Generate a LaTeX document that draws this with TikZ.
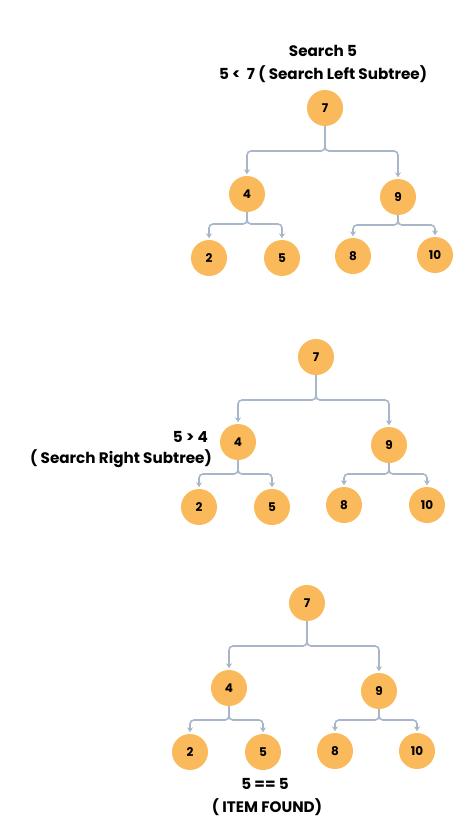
\documentclass[tikz,border=0pt]{standalone}
\usepackage{fontspec}
\setmainfont{Poppins}
\usetikzlibrary{arrows.meta}
\definecolor{nodefill}{HTML}{FAB95B}
\definecolor{conncol}{HTML}{A7B6C8}
\tikzset{
  bnode/.style={circle, fill=nodefill, minimum size=36pt, inner sep=0pt, font=\fontsize{12}{14}\selectfont\bfseries},
  conn/.style={draw=conncol, line width=1.6pt, rounded corners=4pt, -{Stealth[length=5pt,width=6pt]}, shorten >=1.5pt},
  lbl/.style={font=\fontsize{15.2}{17}\selectfont\bfseries, inner sep=0pt}
}
\begin{document}
\begin{tikzpicture}[x=1pt,y=-1pt]
\useasboundingbox (0,0) rectangle (474,835);
% Tree 1
\node[lbl] (t1a) at (323,51) {Search 5};
\node[lbl] (t1b) at (323,74) {5 <\ \ 7 ( Search Left Subtree)};
\node[bnode] (t1n7) at (325,108) {7};
\node[bnode] (t1n4) at (247,194) {4};
\node[bnode] (t1n9) at (398,197) {9};
\node[bnode] (t1n2) at (209,258) {2};
\node[bnode] (t1n5) at (282,258) {5};
\node[bnode] (t1n8) at (353,256) {8};
\node[bnode] (t1n10) at (435,255) {10};
\coordinate (t1j7) at (325,151);
\coordinate (t1j4) at (247,224);
\coordinate (t1j9) at (398,225);
\draw[conn] (t1n7.south) -- (t1j7) -| (t1n4.north);
\draw[conn] (t1n7.south) -- (t1j7) -| (t1n9.north);
\draw[conn] (t1n4.south) -- (t1j4) -| (t1n2.north);
\draw[conn] (t1n4.south) -- (t1j4) -| (t1n5.north);
\draw[conn] (t1n9.south) -- (t1j9) -| (t1n8.north);
\draw[conn] (t1n9.south) -- (t1j9) -| (t1n10.north);
% Tree 2
\node[bnode] (t2n7) at (316,357) {7};
\node[bnode] (t2n4) at (238,442) {4};
\node[bnode] (t2n9) at (389,445) {9};
\node[bnode] (t2n2) at (199,507) {2};
\node[bnode] (t2n5) at (272,507) {5};
\node[bnode] (t2n8) at (344,505) {8};
\node[bnode] (t2n10) at (427,505) {10};
\coordinate (t2j7) at (316,400);
\coordinate (t2j4) at (238,474);
\coordinate (t2j9) at (389,474);
\draw[conn] (t2n7.south) -- (t2j7) -| (t2n4.north);
\draw[conn] (t2n7.south) -- (t2j7) -| (t2n9.north);
\draw[conn] (t2n4.south) -- (t2j4) -| (t2n2.north);
\draw[conn] (t2n4.south) -- (t2j4) -| (t2n5.north);
\draw[conn] (t2n9.south) -- (t2j9) -| (t2n8.north);
\draw[conn] (t2n9.south) -- (t2j9) -| (t2n10.north);
\node[lbl, anchor=east] (t2a) at (208,437) {5 > 4};
\node[lbl, anchor=east] (t2b) at (212,459) {( Search Right Subtree)};
% Tree 3
\node[bnode] (t3n7) at (307,603) {7};
\node[bnode] (t3n4) at (229,688) {4};
\node[bnode] (t3n9) at (379,691) {9};
\node[bnode] (t3n2) at (190,752) {2};
\node[bnode] (t3n5) at (263,752) {5};
\node[bnode] (t3n8) at (335,751) {8};
\node[bnode] (t3n10) at (417,751) {10};
\coordinate (t3j7) at (307,646);
\coordinate (t3j4) at (229,720);
\coordinate (t3j9) at (379,720);
\draw[conn] (t3n7.south) -- (t3j7) -| (t3n4.north);
\draw[conn] (t3n7.south) -- (t3j7) -| (t3n9.north);
\draw[conn] (t3n4.south) -- (t3j4) -| (t3n2.north);
\draw[conn] (t3n4.south) -- (t3j4) -| (t3n5.north);
\draw[conn] (t3n9.south) -- (t3j9) -| (t3n8.north);
\draw[conn] (t3n9.south) -- (t3j9) -| (t3n10.north);
\node[lbl] (t3a) at (265,784) {5 == 5};
\node[lbl] (t3b) at (267,807) {( ITEM FOUND)};
\end{tikzpicture}
\end{document}
